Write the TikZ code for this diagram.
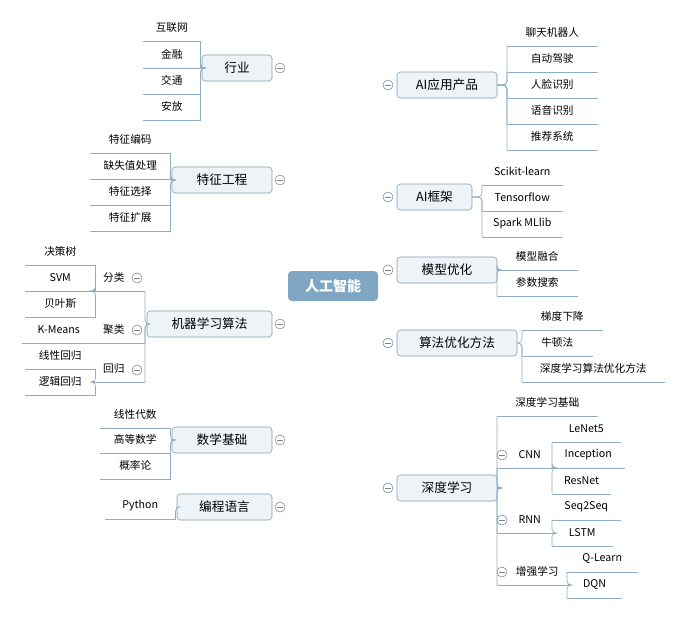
\documentclass[tikz,border=0pt]{standalone}
\usepackage{fontspec}
\setmainfont{Noto Sans CJK SC}
\usetikzlibrary{calc, positioning, backgrounds}
\definecolor{lnk}{HTML}{8FAEC6}
\definecolor{boxline}{HTML}{7D9DB5}
\definecolor{boxfill}{HTML}{EEF3F7}
\definecolor{hub}{HTML}{7FA6C2}
\tikzset{
  hubnode/.style={rounded corners=3pt, fill=hub, text=white, font=\bfseries\fontsize{10.5}{12}\selectfont, minimum width=67.5pt, minimum height=22.5pt},
  topic/.style={rounded corners=2.5pt, draw=boxline, fill=boxfill, font=\fontsize{9.5}{11}\selectfont, minimum height=19.5pt, inner sep=1pt},
  leaf/.style={anchor=south west, font=\fontsize{8}{10}\selectfont, minimum height=19.5pt, inner sep=0pt},
  bline/.style={draw=lnk, line width=0.5pt},
  fold/.style={circle, draw=gray, fill=white, minimum size=7.5pt, inner sep=0pt,
    path picture={\draw[gray] ([xshift=1.5pt]path picture bounding box.west) -- ([xshift=-1.5pt]path picture bounding box.east);}}
}
\newcommand{\uline}[1]{\draw[bline] (#1.south west) -- (#1.south east);}
\begin{document}
\begin{tikzpicture}[x=0.75pt, y=-0.75pt]
  \fill[white] (0,0) rectangle (686,619);
  \useasboundingbox (0,0) rectangle (686,619);

  % hub
  \node[hubnode] (ctr) at (333,286) {人工智能};

  % left topics
  \node[topic, minimum width=52.5pt] (hy) at (237,68) {行业};
  \node[topic, minimum width=75pt] (tz) at (222,180) {特征工程};
  \node[topic, minimum width=93.75pt] (ml) at (209.5,324) {机器学习算法};
  \node[topic, minimum width=75pt] (sx) at (222,440) {数学基础};
  \node[topic, minimum width=71.25pt] (bc) at (224.5,507) {编程语言};
  \foreach \n/\y in {hyc/68, tzc/180, mlc/324, sxc/440, bcc/507}
    \node[fold] (\n) at (280,\y) {};

  % right topics
  \node[topic, minimum width=75pt] (ap) at (447,85) {AI应用产品};
  \node[topic, minimum width=56.25pt] (kj) at (434.5,197) {AI框架};
  \node[topic, minimum width=75pt] (my) at (447,270) {模型优化};
  \node[topic, minimum width=90pt] (sf) at (457,343) {算法优化方法};
  \node[topic, minimum width=75pt] (dl) at (447,488) {深度学习};
  \foreach \n/\y in {apc/85, kjc/197, myc/270, sfc/343, dlc/488}
    \node[fold] (\n) at (388,\y) {};

  % hub connectors
  \begin{scope}[on background layer]
    \draw[bline] (ctr.center) to[out=95, in=0] (hyc.east);
    \draw[bline] (ctr.center) to[out=110, in=0] (tzc.east);
    \draw[bline] (ctr.center) to[out=200, in=0] (mlc.east);
    \draw[bline] (ctr.center) to[out=260, in=0] (sxc.east);
    \draw[bline] (ctr.center) to[out=268, in=0] (bcc.east);
    \draw[bline] (ctr.center) to[out=85, in=180] (apc.west);
    \draw[bline] (ctr.center) to[out=75, in=180] (kjc.west);
    \draw[bline] (ctr.center) to[out=0, in=180] (myc.west);
    \draw[bline] (ctr.center) to[out=-30, in=180] (sfc.west);
    \draw[bline] (ctr.center) to[out=-87, in=180] (dlc.west);
  \end{scope}

  % 行业
  \foreach \n/\y/\t in {hy1/41/互联网, hy2/68/金融, hy3/94/交通, hy4/120/安放} {
    \node[leaf, minimum width=42.75pt] (\n) at (143,\y) {\t};
    \uline{\n}
    \draw[bline, rounded corners=3pt] (\n.south east) |- (hy.west);
  }
  % 特征工程
  \foreach \n/\y/\t in {tz1/153/特征编码, tz2/179/缺失值处理, tz3/205/特征选择, tz4/231/特征扩展} {
    \node[leaf, minimum width=60pt] (\n) at (90,\y) {\t};
    \uline{\n}
    \draw[bline, rounded corners=3pt] (\n.south east) |- (tz.west);
  }
  % 数学基础
  \foreach \n/\y/\t in {sx1/428/线性代数, sx2/453/高等数学, sx3/479/概率论} {
    \node[leaf, minimum width=52.5pt] (\n) at (100,\y) {\t};
    \uline{\n}
    \draw[bline, rounded corners=3pt] (\n.south east) |- (sx.west);
  }
  % 编程语言
  \node[leaf, minimum width=52.5pt] (py) at (105,519) {Python};
  \uline{py}
  \draw[bline, rounded corners=3pt] (py.south east) |- (bc.west);

  % 机器学习算法
  \foreach \n/\y/\t/\c in {fl/291/分类/278, jl/343/聚类/330, hg/382/回归/370} {
    \node[leaf, minimum width=27.75pt] (\n) at (95,\y) {\t};
    \draw[bline] (\n.south west) -- ($(\n.south west)+(50,0)$);
    \draw[bline, rounded corners=3pt] ($(\n.south west)+(50,0)$) |- (ml.west);
    \node[fold] (\n c) at (137,\c) {};
  }
  \foreach \n/\y/\p/\t in {fl1/265/fl/决策树, fl2/291/fl/SVM, fl3/317/fl/贝叶斯, hg1/369/hg/线性回归, hg2/395/hg/逻辑回归} {
    \node[leaf, minimum width=52.5pt] (\n) at (25,\y) {\t};
    \uline{\n}
    \draw[bline, rounded corners=3pt] (\n.south east) |- (\p.south west);
  }
  \node[leaf, minimum width=54.75pt] (jl1) at (22,343) {K-Means};
  \uline{jl1}

  % AI应用产品
  \foreach \n/\y/\t in {ap1/46/聊天机器人, ap2/72/自动驾驶, ap3/98/人脸识别, ap4/124/语音识别, ap5/150/推荐系统} {
    \node[leaf, minimum width=67.5pt] (\n) at (507,\y) {\t};
    \uline{\n}
    \draw[bline, rounded corners=3pt] (\n.south west) |- (ap.east);
  }
  % AI框架
  \foreach \n/\y/\t in {kj1/185/Scikit-learn, kj2/211/Tensorflow, kj3/237/Spark MLlib} {
    \node[leaf, minimum width=60pt] (\n) at (482,\y) {\t};
    \uline{\n}
    \draw[bline, rounded corners=3pt] (\n.south west) |- (kj.east);
  }
  % 模型优化
  \foreach \n/\y/\t in {my1/270/模型融合, my2/296/参数搜索} {
    \node[leaf, minimum width=60pt] (\n) at (497,\y) {\t};
    \uline{\n}
    \draw[bline, rounded corners=3pt] (\n.south west) |- (my.east);
  }
  % 算法优化方法
  \foreach \n/\y/\w/\t in {sf1/330/60pt/梯度下降, sf2/356/52.5pt/牛顿法, sf3/382/106.5pt/深度学习算法优化方法} {
    \node[leaf, minimum width=\w] (\n) at (522,\y) {\t};
    \uline{\n}
    \draw[bline, rounded corners=3pt] (\n.south west) |- (sf.east);
  }
  % 深度学习
  \node[leaf, minimum width=75pt] (dl0) at (497,416) {深度学习基础};
  \uline{dl0}
  \draw[bline, rounded corners=3pt] (dl0.south west) |- (dl.east);
  \foreach \n/\y/\w/\c/\t in {cnn/468/33.75pt/455/CNN, rnn/533/33.75pt/520/RNN, qx/585/45pt/572/增强学习} {
    \node[leaf, minimum width=\w] (\n) at (507,\y) {\t};
    \draw[bline] ($(\n.south west)+(-10,0)$) -- (\n.south east);
    \draw[bline, rounded corners=3pt] ($(\n.south west)+(-10,0)$) |- (dl.east);
    \node[fold] (\n c) at (502,\c) {};
  }
  \foreach \n/\y/\x/\w/\p/\t in {cn1/442/552/51pt/cnn/LeNet5, cn2/468/552/54pt/cnn/Inception, cn3/494/552/44pt/cnn/ResNet,
      rn1/520/552/51pt/rnn/Seq2Seq, rn2/546/552/45pt/rnn/LSTM, qx1/572/567/52.5pt/qx/Q-Learn, qx2/598/567/41pt/qx/DQN} {
    \node[leaf, minimum width=\w] (\n) at (\x,\y) {\t};
    \uline{\n}
    \draw[bline, rounded corners=3pt] (\n.south west) |- (\p.south east);
  }
\end{tikzpicture}
\end{document}
